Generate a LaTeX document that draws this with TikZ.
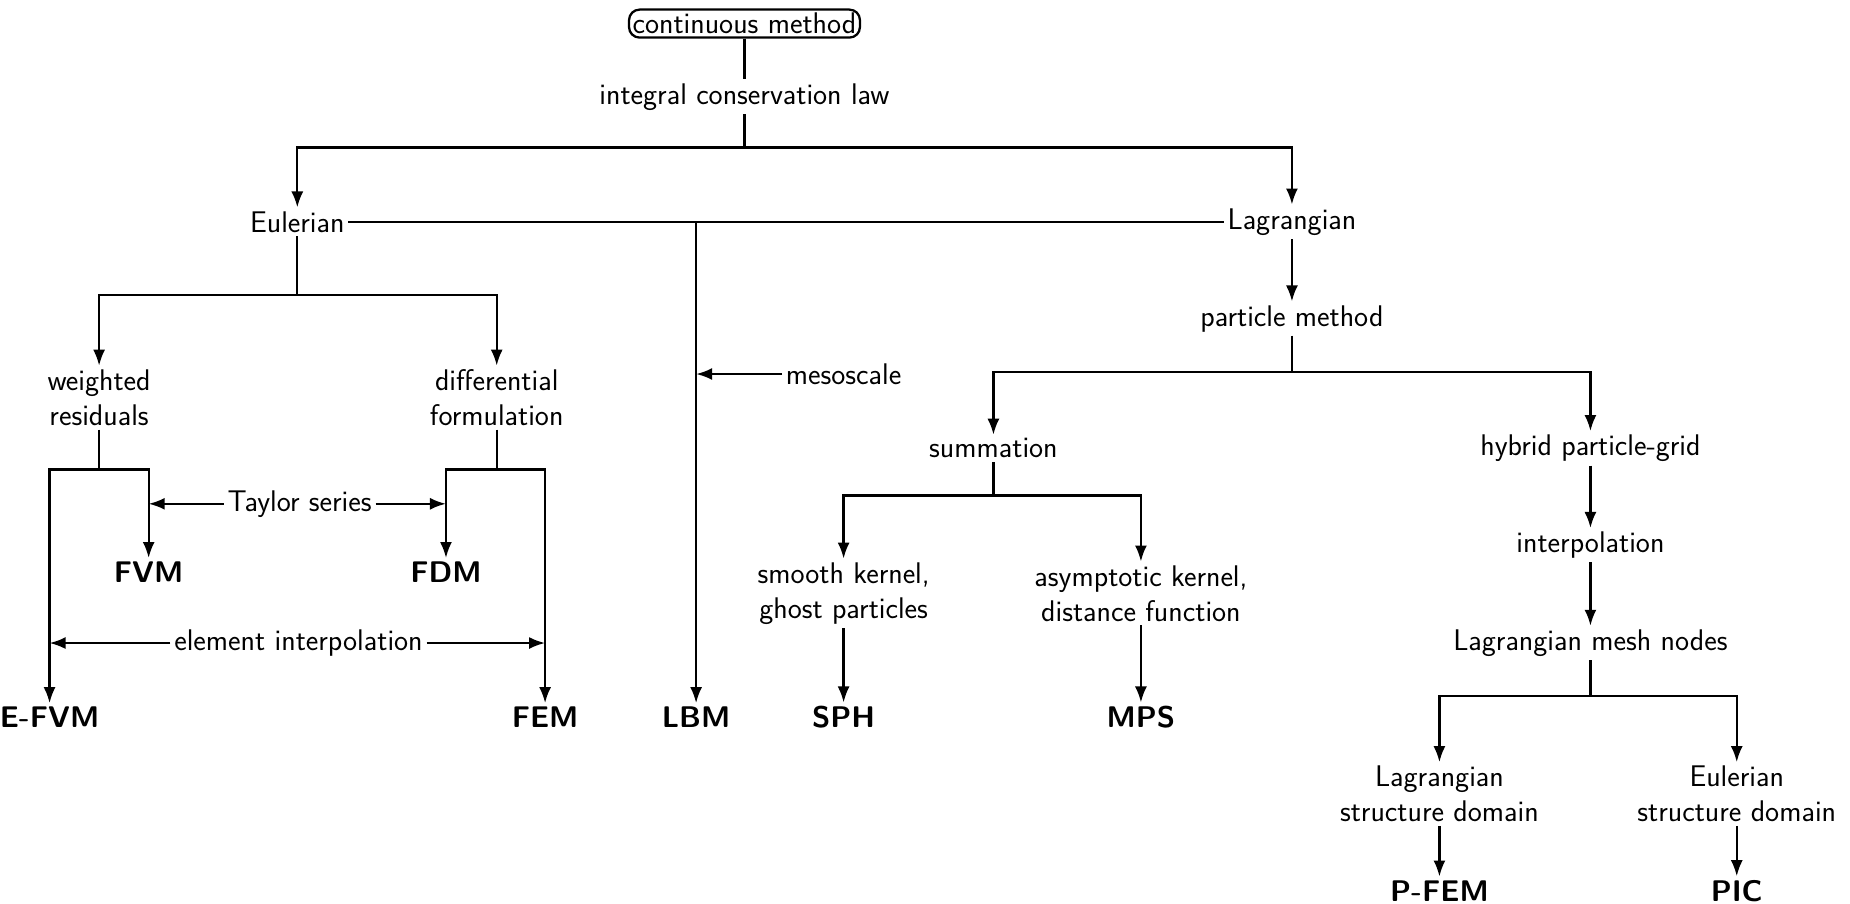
\documentclass[tikz,border=0pt]{standalone}
\usetikzlibrary{arrows.meta}
\begin{document}
\begin{tikzpicture}[x=0.0236cm,y=-0.0236cm,
  every node/.style={font=\fontsize{17}{20}\selectfont\sffamily,align=center,inner sep=2pt},
  b/.style={font=\fontsize{17}{20}\selectfont\sffamily\bfseries},
  l/.style={line width=1.3pt},
  a/.style={l,-{Latex[length=3.2mm,width=2.4mm]}}]
\useasboundingbox (0,0) rectangle (1568,766);
\node[draw,rounded corners=6pt,line width=1.3pt] (cm) at (631,20) {continuous method};
\node (icl) at (631,82) {integral conservation law};
\node (eu) at (252,188) {Eulerian};
\node (la) at (1095,188) {Lagrangian};
\node (wr) at (84,337) {weighted\\residuals};
\node (df) at (421,337) {differential\\formulation};
\node (ts) at (254,427) {Taylor series};
\node[b] (fvm) at (126,485) {FVM};
\node[b] (fdm) at (378,485) {FDM};
\node (ei) at (253,545) {element interpolation};
\node[b] (efvm) at (42,608) {E-FVM};
\node[b] (fem) at (462,608) {FEM};
\node[b] (lbm) at (590,608) {LBM};
\node (ms) at (715,317) {mesoscale};
\node (pm) at (1095,270) {particle method};
\node (sum) at (842,380) {summation};
\node (hpg) at (1348,380) {hybrid particle-grid};
\node (sk) at (715,503) {smooth kernel,\\ghost particles};
\node (ak) at (967,503) {asymptotic kernel,\\distance function};
\node[b] (sph) at (715,608) {SPH};
\node[b] (mps) at (967,608) {MPS};
\node (ip) at (1348,462) {interpolation};
\node (lmn) at (1348,545) {Lagrangian mesh nodes};
\node (lsd) at (1220,673) {Lagrangian\\structure domain};
\node (esd) at (1472,673) {Eulerian\\structure domain};
\node[b] (pfem) at (1220,755) {P-FEM};
\node[b] (pic) at (1472,755) {PIC};
\coordinate (c1) at (631,125);
\coordinate (m1) at (590,188);
\coordinate (m2) at (590,317);
\coordinate (e1) at (252,250);
\coordinate (w1) at (84,398);
\coordinate (d1) at (421,398);
\coordinate (p1) at (1095,315);
\coordinate (s1) at (842,420);
\coordinate (n1) at (1348,590);
\draw[l] (cm) -- (icl);
\draw[a] (icl) -- (c1) -| (eu);
\draw[a] (c1) -| (la);
\draw[l] (eu) -- (la);
\draw[a] (m1) -- (lbm);
\draw[a] (ms) -- (m2);
\draw[a] (eu) -- (e1) -| (wr);
\draw[a] (e1) -| (df);
\draw[a] (wr) -- (w1) -| (efvm);
\draw[a] (w1) -| (fvm);
\draw[a] (df) -- (d1) -| (fdm);
\draw[a] (d1) -| (fem);
\draw[a] (ts.west) -- (126,427);
\draw[a] (ts.east) -- (378,427);
\draw[a] (ei.west) -- (42,545);
\draw[a] (ei.east) -- (462,545);
\draw[a] (la) -- (pm);
\draw[a] (pm) -- (p1) -| (sum);
\draw[a] (p1) -| (hpg);
\draw[a] (sum) -- (s1) -| (sk);
\draw[a] (s1) -| (ak);
\draw[a] (sk) -- (sph);
\draw[a] (ak) -- (mps);
\draw[a] (hpg) -- (ip);
\draw[a] (ip) -- (lmn);
\draw[a] (lmn) -- (n1) -| (lsd);
\draw[a] (n1) -| (esd);
\draw[a] (lsd) -- (pfem);
\draw[a] (esd) -- (pic);
\end{tikzpicture}
\end{document}
